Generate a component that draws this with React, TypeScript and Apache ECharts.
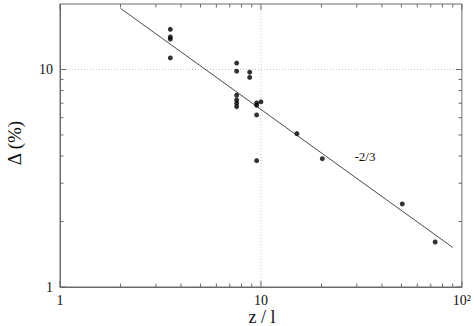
import React, { useEffect, useRef } from "react";
import * as echarts from "echarts";

// Measured points (z/l, Δ %)
const zValues = [3.54, 3.54, 3.54, 3.54, 7.57, 7.57, 7.57, 7.57, 7.57, 7.57, 8.79, 8.79, 9.52, 9.52, 9.52, 9.52, 10.0, 15.1, 20.2, 50.5, 73.6];
const deltaValues = [15.3, 14.1, 13.8, 11.3, 10.7, 9.82, 7.61, 7.24, 7.0, 6.75, 9.72, 9.19, 7.02, 6.85, 6.18, 3.81, 7.1, 5.07, 3.89, 2.41, 1.61];

// -2/3 power-law guide line endpoints
const fitZ = [2.0, 90];
const fitDelta = [19.1, 1.52];

// axis ranges and ticks
const xRange = [1, 100];
const yRange = [1, 20];
const xMajorTicks = [1, 10, 100];
const xMinorTicks = [2, 3, 4, 5, 6, 7, 8, 9, 20, 30, 40, 50, 60, 70, 80, 90];
const yMajorTicks = [1, 10];
const yMinorTicks = [2, 3, 4, 5, 6, 7, 8, 9];
const xTickLabels: Record<number, string> = { 1: "1", 10: "10", 100: "10²" };
const yTickLabels: Record<number, string> = { 1: "1", 10: "10" };

const FONT = "Times New Roman, Liberation Serif, DejaVu Serif, serif";

export default function App() {
  const ref = useRef<HTMLDivElement>(null);
  useEffect(() => {
    if (!ref.current) return;
    const chart = echarts.init(ref.current, undefined, { renderer: "svg" });
    const axisColor = "#6a6a6a";
    const majorLen = 6;
    const minorLen = 3.5;

    const renderTicks = (params: any, api: any) => {
      const cs = params.coordSys;
      const x0 = cs.x, y0 = cs.y, w = cs.width, h = cs.height;
      const children: any[] = [];
      const lineStyle = { stroke: axisColor, lineWidth: 1 };
      const gridStyle = { stroke: "#c4c4c4", lineWidth: 1, lineDash: [1, 2] };
      const gx = api.coord([10, yRange[0]])[0];
      children.push({ type: "line", shape: { x1: gx, y1: y0, x2: gx, y2: y0 + h }, style: gridStyle, silent: true });
      const gy = api.coord([xRange[0], 10])[1];
      children.push({ type: "line", shape: { x1: x0, y1: gy, x2: x0 + w, y2: gy }, style: gridStyle, silent: true });
      const addX = (v: number, len: number) => {
        const px = api.coord([v, yRange[0]])[0];
        children.push({ type: "line", shape: { x1: px, y1: y0 + h, x2: px, y2: y0 + h - len }, style: lineStyle, silent: true });
        children.push({ type: "line", shape: { x1: px, y1: y0, x2: px, y2: y0 + len }, style: lineStyle, silent: true });
      };
      const addY = (v: number, len: number) => {
        const py = api.coord([xRange[0], v])[1];
        children.push({ type: "line", shape: { x1: x0, y1: py, x2: x0 + len, y2: py }, style: lineStyle, silent: true });
        children.push({ type: "line", shape: { x1: x0 + w, y1: py, x2: x0 + w - len, y2: py }, style: lineStyle, silent: true });
      };
      xMajorTicks.forEach((v) => addX(v, majorLen));
      xMinorTicks.forEach((v) => addX(v, minorLen));
      yMajorTicks.forEach((v) => addY(v, majorLen));
      yMinorTicks.forEach((v) => addY(v, minorLen));
      return { type: "group", children };
    };

    chart.setOption({
      animation: false,
      backgroundColor: "#ffffff",
      textStyle: { fontFamily: FONT },
      grid: {
        left: 60,
        right: 12,
        top: 4,
        bottom: 39,
        show: true,
        borderColor: axisColor,
        borderWidth: 1,
        backgroundColor: "transparent",
      },
      xAxis: {
        type: "log",
        logBase: 10,
        min: xRange[0],
        max: xRange[1],
        axisLine: { show: true, lineStyle: { color: axisColor } },
        axisTick: { show: false },
        splitLine: { show: false },
        axisLabel: {
          margin: 6,
          fontFamily: FONT,
          fontSize: 14,
          color: "#111",
          formatter: (v: number) => xTickLabels[Math.round(v)] ?? "",
        },
      },
      yAxis: {
        type: "log",
        logBase: 10,
        min: yRange[0],
        max: yRange[1],
        axisLine: { show: true, lineStyle: { color: axisColor } },
        axisTick: { show: false },
        splitLine: { show: false },
        axisLabel: {
          margin: 7,
          fontFamily: FONT,
          fontSize: 14,
          color: "#111",
          showMaxLabel: false,
          formatter: (v: number) => yTickLabels[Math.round(v)] ?? "",
        },
      },
      series: [
        {
          type: "custom",
          renderItem: renderTicks,
          data: [[1, 1]],
          silent: true,
          z: 1,
        },
        {
          type: "line",
          data: fitZ.map((z, i) => [z, fitDelta[i]]),
          showSymbol: false,
          symbol: "none",
          lineStyle: { color: "#4a4a4a", width: 1 },
          silent: true,
          z: 2,
        },
        {
          type: "scatter",
          data: zValues.map((z, i) => [z, deltaValues[i]]),
          symbol: "circle",
          symbolSize: 5,
          itemStyle: { color: "#000" },
          z: 3,
        },
      ],
      graphic: [
        {
          type: "text",
          x: 14,
          y: 143,
          rotation: Math.PI / 2,
          style: {
            text: "Δ (%)",
            fontFamily: FONT,
            fontSize: 19,
            fill: "#111",
            align: "center",
            verticalAlign: "middle",
          },
        },
        {
          type: "text",
          x: 262,
          y: 317,
          style: {
            text: "z / l",
            fontFamily: FONT,
            fontSize: 18,
            fill: "#111",
            align: "center",
            verticalAlign: "middle",
          },
        },
        {
          type: "text",
          x: 365,
          y: 156,
          style: {
            text: "-2/3",
            fontFamily: FONT,
            fontSize: 13,
            fill: "#111",
            align: "center",
            verticalAlign: "middle",
          },
        },
      ],
    });
    return () => chart.dispose();
  }, []);
  return <div ref={ref} style={{ width: 474, height: 326, position: "absolute", left: 0, top: 0 }} />;
}
